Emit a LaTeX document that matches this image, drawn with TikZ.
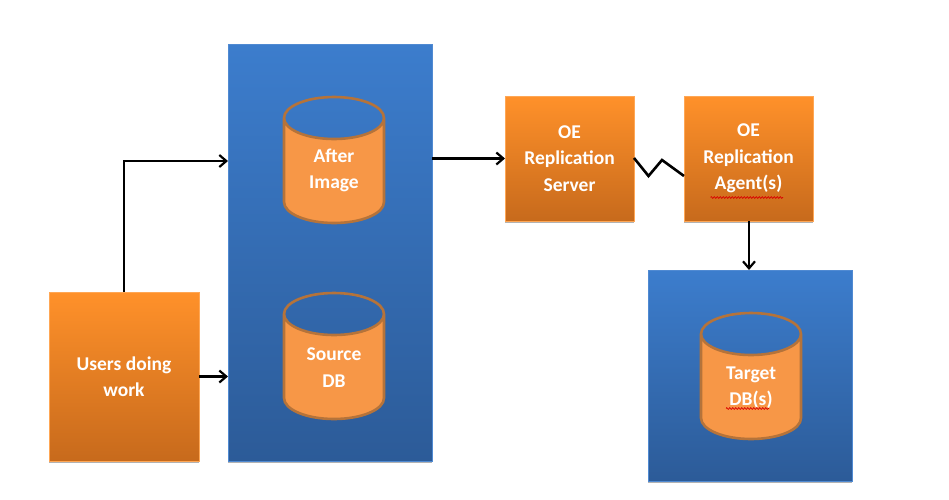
\documentclass[tikz,border=0pt]{standalone}
\usepackage{fontspec}
\setmainfont{Carlito}
\usetikzlibrary{arrows.meta,shadows,decorations.pathmorphing}
\definecolor{ortop}{HTML}{FF912A}
\definecolor{orbot}{HTML}{C76A1C}
\definecolor{bltop}{HTML}{3C7DCD}
\definecolor{blbot}{HTML}{2C5B98}
\definecolor{cylfill}{HTML}{F79747}
\definecolor{cylline}{HTML}{B5733A}
\tikzset{
  x=1pt,y=-1pt,
  lbl/.style={text=white,font=\bfseries\fontsize{19.5}{26.5}\selectfont,align=center,inner sep=0pt},
  softshadow/.style={drop shadow={shadow xshift=0.4pt,shadow yshift=-1.6pt,opacity=.3,fill=black}},
  orangebox/.style={lbl,shape=rectangle,top color=ortop,bottom color=orbot,draw=ortop!80!white,line width=.6pt,softshadow,outer sep=0pt},
  bluepanel/.style={shape=rectangle,top color=bltop,bottom color=blbot,draw=bltop!90!white,line width=.6pt,softshadow,inner sep=0pt,outer sep=0pt},
  cylbody/.style={fill=cylfill,draw=cylline,line width=2.6pt,line join=round},
  link/.style={draw=black,line width=2.6pt,line join=miter},
  arrowlink/.style={link,-{Straight Barb[length=7pt,width=12pt,line width=2.2pt]}},
  spell/.style={draw=red!85!black,line width=.7pt,decorate,decoration={zigzag,amplitude=.8pt,segment length=3pt}}
}
\newcommand{\dbcyl}[6]{% name, cx, top, bottom, text, text y
  \path[cylbody] (#2-50,#3+21) arc[x radius=50,y radius=21,start angle=180,end angle=0]
     -- (#2+50,#4-21) arc[x radius=50,y radius=21,start angle=0,end angle=180] -- cycle;
  \path[cylbody,fill=none] (#2-50,#3+21) arc[x radius=50,y radius=21,start angle=180,end angle=360];
  \node[lbl] (#1) at (#2,#6) {#5};
}
\begin{document}
\begin{tikzpicture}
\useasboundingbox (0,0) rectangle (949,499);
\node[bluepanel,minimum width=204pt,minimum height=417pt] (srcpanel) at (330,252.5) {};
\node[bluepanel,minimum width=204pt,minimum height=211pt] (tgtpanel) at (750,375.5) {};
\node[orangebox,minimum width=150pt,minimum height=169pt] (users) at (124,376.5) {Users doing\\work};
\node[orangebox,minimum width=129pt,minimum height=125pt] (server) at (569.5,158.5) {OE\\Replication\\Server};
\node[orangebox,minimum width=129pt,minimum height=125pt] (agent) at (748.5,158.5) {OE\\Replication\\Agent(s)};
\dbcyl{afterdb}{334}{97}{223}{After\\Image}{170.5}
\dbcyl{sourcedb}{334}{293}{419}{Source\\DB}{367.5}
\dbcyl{targetdb}{751}{313}{439}{Target\\DB(s)}{387.5}
\draw[spell] (710.5,197.5) -- (783,197.5);
\draw[spell] (726,408.5) -- (769,408.5);
\coordinate (elbow) at (124,161);
\coordinate (zig1) at (648.5,176);
\coordinate (zig2) at (662,160);
\draw[arrowlink] (users.north) -- (elbow) -- (srcpanel.west |- elbow);
\draw[arrowlink] (users.east |- 0,376.5) -- (srcpanel.west |- 0,376.5);
\draw[arrowlink] (srcpanel.east |- 0,158.5) -- (server.west |- 0,158.5);
\draw[link] (server.east |- 0,158) -- (zig1) -- (zig2) -- (agent.west |- 0,176);
\draw[arrowlink] (agent.south -| 749,0) -- (tgtpanel.north -| 749,0);
\end{tikzpicture}
\end{document}
